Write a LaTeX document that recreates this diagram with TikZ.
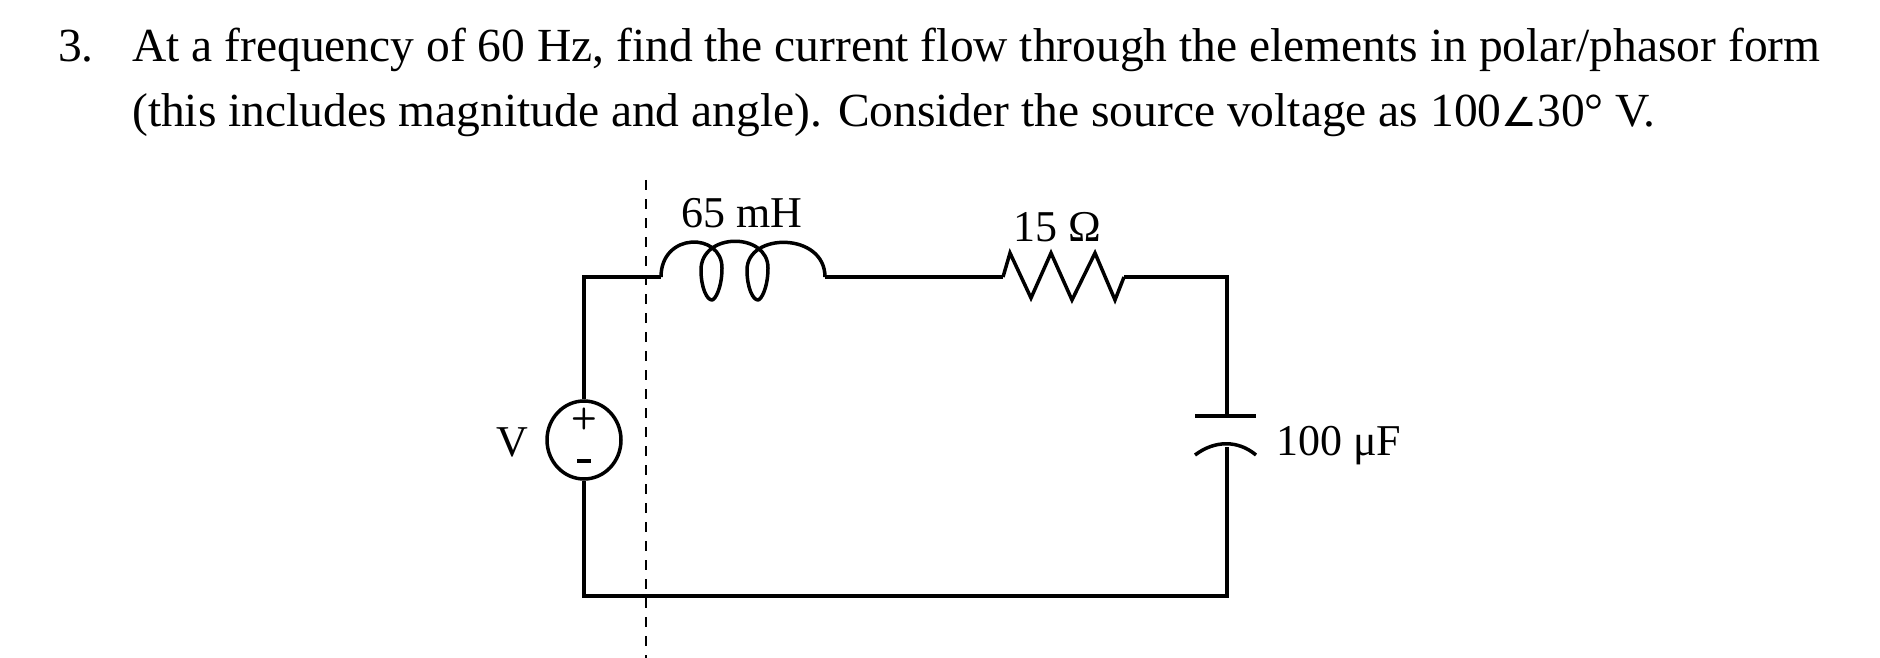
\documentclass[tikz,border=0pt]{standalone}
\usepackage{fontspec}
\setmainfont{Liberation Serif}
\newfontfamily\symfont{DejaVu Sans}
\usetikzlibrary{shapes.geometric}
\begin{document}
\begin{tikzpicture}[x=1pt,y=-1pt,
  wire/.style={line width=3.5pt,line join=miter},
  title/.style={anchor=base west,inner sep=0,font=\fontsize{47.5}{55}\selectfont},
  lbl/.style={inner sep=0,font=\fontsize{44}{50}\selectfont}]
\useasboundingbox (0,0) rectangle (1880,658);
\node[title] (num) at (58,62) {3.};
\node[title] (l1) at (132,62) {At a frequency of 60 Hz, find the current flow through the elements in polar/phasor form};
\node[title] (l2) at (132,127) {(this includes magnitude and angle). Consider the source voltage as 100{\symfont\fontsize{40}{40}\selectfont∠}30° V.};
\coordinate (tl) at (584,277);
\coordinate (tr) at (1227,277);
\coordinate (bl) at (584,596);
\coordinate (br) at (1227,596);
\node[draw,line width=3.5pt,ellipse,minimum width=74pt,minimum height=78pt,inner sep=0] (src) at (584,440) {};
\node[font=\sffamily\bfseries\fontsize{30}{30}\selectfont,inner sep=0] (plus) at (584,419) {+};
\draw[line width=4pt] (577,461) -- (591,461);
\coordinate (Ls) at (661,277);
\coordinate (Le) at (825,277);
\coordinate (Rs) at (1003,277);
\coordinate (Re) at (1124,277);
\coordinate (Ct) at (1227,416);
\coordinate (Cb) at (1227,447);
\draw[wire] (src.north) -- (tl) -- (Ls);
\draw[wire] (Le) -- (Rs);
\draw[wire] (Re) -- (tr) -- (Ct);
\draw[wire] (Cb) -- (br) -- (bl) -- (src.south);
% inductor
\draw[wire,line join=round] (Ls) .. controls (661,232) and (722,232) .. (722,268)
  .. controls (722,288) and (715,300) .. (712,300) .. controls (707,300) and (701,288) .. (701,270)
  .. controls (701,232) and (768,232) .. (768,268)
  .. controls (768,288) and (761,300) .. (758,300) .. controls (753,300) and (747,288) .. (747,270)
  .. controls (747,232) and (825,232) .. (Le);
% resistor
\draw[wire] (Rs) -- (1010,253) -- (1031,298) -- (1051,253) -- (1072,300) -- (1095,253) -- (1115,300) -- (Re);
% capacitor
\draw[wire] (1195,416) -- (1256,416);
\draw[wire] (1195,455) .. controls (1215,440) and (1238,440) .. (1256,455);
\draw[line width=1.5pt,dash pattern=on 10pt off 9pt] (646,180) -- (646,658);
\node[lbl] (lL) at (742,213) {65 mH};
\node[lbl] (lR) at (1057,227) {15 Ω};
\node[lbl] (lV) at (512,442) {V};
\node[lbl,anchor=west] (lC) at (1276,446) {100 μF};
\end{tikzpicture}
\end{document}
